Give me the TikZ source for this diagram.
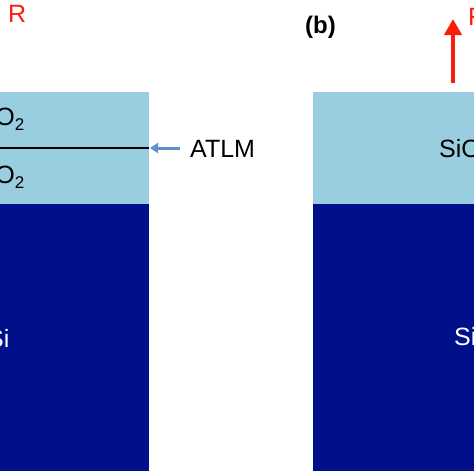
\documentclass[tikz,border=0pt]{standalone}
\usepackage{fontspec}
\setmainfont{Liberation Sans}
\usetikzlibrary{arrows.meta}
\definecolor{oxide}{RGB}{152,206,224}
\definecolor{silicon}{RGB}{0,16,138}
\definecolor{redarr}{RGB}{250,30,10}
\definecolor{bluearr}{RGB}{95,145,205}
\newcommand{\subtwo}{\raisebox{-5pt}{\fontsize{17}{17}\selectfont 2}}
\tikzset{
  lbl/.style={inner sep=0pt, font=\fontsize{25}{28}\selectfont, anchor=base west},
  oxidebox/.style={fill=oxide, draw=none},
  sibox/.style={fill=silicon, draw=none},
}
\begin{document}
\begin{tikzpicture}[x=1pt,y=-1pt]
\useasboundingbox (0,0) rectangle (474,474);
\clip (0,0) rectangle (474,474);
% panel (a)
\fill[oxidebox] (-40,92) rectangle (149,204);
\fill[sibox] (-40,204) rectangle (149,471);
\coordinate (lineL) at (-40,148);
\coordinate (lineR) at (149,148);
\draw[line width=2.2pt, black] (lineL) -- (lineR);
\node[lbl] (ox1) at (-27,125) {SiO\subtwo};
\node[lbl] (ox2) at (-27,183) {SiO\subtwo};
\node[lbl, text=white] (si1) at (-13,347) {Si};
\node[lbl, text=redarr] (r1) at (8,22) {R};
\node[lbl] (atlm) at (190,157) {ATLM};
\coordinate (tipA) at (150,148);
\draw[line width=3pt, bluearr, -{Triangle[length=8pt,width=10pt]}] (atlm.west |- tipA) ++(-10,0) coordinate (startA) -- (tipA);
% panel (b)
\node[lbl, font=\fontsize{24}{28}\selectfont\bfseries] (b) at (305,33) {(b)};
\fill[oxidebox] (313,92) rectangle (520,204);
\fill[sibox] (313,204) rectangle (520,471);
\node[lbl] (ox3) at (439,157) {SiO\subtwo};
\node[lbl, text=white] (si2) at (454,345) {Si};
\node[lbl, text=redarr] (r2) at (468,25) {R};
\coordinate (arrBot) at (453,83);
\coordinate (arrTop) at (453,19);
\draw[line width=4.5pt, redarr, -{Triangle[length=16pt,width=17pt]}] (arrBot) -- (arrTop);
\end{tikzpicture}
\end{document}
